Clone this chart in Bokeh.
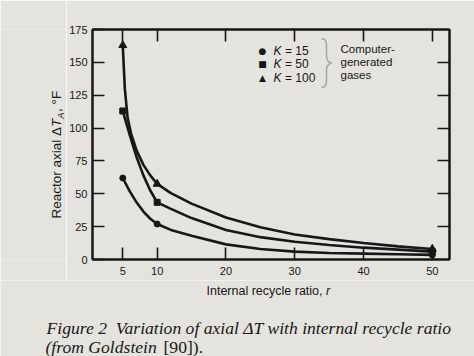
import math
from bokeh.plotting import figure
from bokeh.models import Range1d, FixedTicker, LinearAxis, Label, PolyAnnotation
from bokeh.layouts import column, row
from bokeh.embed import file_html
from bokeh.resources import INLINE

# ---- data ----
r_k15 = [5, 6, 7, 8, 9, 10, 12, 15, 20, 25, 30, 35, 40, 45, 50]
dt_k15 = [62, 52, 43.5, 36.5, 31, 27, 22.5, 18, 11.5, 8, 6, 5, 4.5, 4, 3.5]
r_k50 = [5, 5.5, 6, 6.5, 7, 8, 9, 10, 12, 15, 20, 25, 30, 35, 40, 45, 50]
dt_k50 = [113, 104, 95, 86.5, 78, 64, 52.5, 43.5, 38.5, 31.5, 22.5, 17, 13.5, 11, 9, 7.5, 6]
r_k100 = [5, 5.3, 5.7, 6.2, 7, 8, 9, 10, 12, 15, 20, 25, 30, 35, 40, 45, 50]
dt_k100 = [163, 130, 108, 96, 83, 72, 64, 57.5, 50.5, 42.5, 32, 24.5, 19, 15.5, 12.5, 10, 8]
marker_r = [5, 10, 50]
x_ticks = [5, 10, 20, 30, 40, 50]
y_ticks = [0, 25, 50, 75, 100, 125, 150, 175]
legend_k = ["15", "50", "100"]

W, H = 474, 356
LEFT_W = 66      # strip holding the y-axis title
TOP_H = 280      # height of the chart row
BG = "#e5e3dd"
INK = "#171717"

def blank(w, h):
    f = figure(width=w, height=h, x_range=Range1d(0, 1), y_range=Range1d(0, 1),
               x_axis_location=None, y_axis_location=None, min_border=0,
               outline_line_color=None, background_fill_color=BG, border_fill_color=BG,
               toolbar_location=None, output_backend="svg")
    for g in f.grid:
        g.visible = False
    return f

p = figure(width=W - LEFT_W, height=TOP_H, x_range=Range1d(0.6, 52.5), y_range=Range1d(0, 175),
           output_backend="svg", toolbar_location=None,
           min_border_left=92 - LEFT_W, min_border_right=25, min_border_top=29,
           min_border_bottom=TOP_H - 259,
           background_fill_color=BG, border_fill_color=BG,
           outline_line_color=INK, outline_line_width=2)
p.grid.visible = False

def style_axis(ax, ticks, labels=True):
    ax.ticker = FixedTicker(ticks=ticks)
    ax.major_tick_in = 12
    ax.major_tick_out = 0
    ax.minor_tick_in = 0
    ax.minor_tick_out = 0
    ax.major_tick_line_color = INK
    ax.major_tick_line_width = 1.6
    ax.axis_line_color = INK
    ax.axis_line_width = 2
    ax.major_label_text_font = "Liberation Sans"
    ax.major_label_text_font_size = "11px"
    ax.major_label_text_color = INK
    if not labels:
        ax.major_label_overrides = {t: "" for t in ticks}

style_axis(p.xaxis[0], x_ticks)
p.xaxis[0].major_label_standoff = 7
style_axis(p.yaxis[0], y_ticks)
p.yaxis[0].major_label_standoff = 5

top_ax = LinearAxis()
style_axis(top_ax, x_ticks, labels=False)
p.add_layout(top_ax, "above")
right_ax = LinearAxis()
style_axis(right_ax, y_ticks[1:-1], labels=False)
p.add_layout(right_ax, "right")

series = [
    (r_k15, dt_k15, "circle", 6),
    (r_k50, dt_k50, "square", 6),
    (r_k100, dt_k100, "triangle", 8),
]
for rs, vs, mk, sz in series:
    p.line(rs, vs, line_color=INK, line_width=2.6)
    my = [vs[rs.index(r)] for r in marker_r]
    p.scatter(marker_r, my, marker=mk, size=sz, fill_color=INK, line_color=INK)

def lab(f, x, y, text, size, style="normal", font="Liberation Sans", align="left",
        baseline="middle", angle=0.0):
    f.add_layout(Label(x=x, y=y, x_units="canvas", y_units="canvas", text=text,
                       text_font=font, text_font_size=size, text_font_style=style,
                       text_color=INK, text_align=align, text_baseline=baseline,
                       angle=angle))

# legend (inside the chart frame; page x minus LEFT_W)
ox = LEFT_W
sym = ["\u25CF", "\u25A0", "\u25B2"]
ly = [50, 63.5, 77]
for s, k, yy in zip(sym, legend_k, ly):
    lab(p, 262 - ox, yy, s, "9px", font="DejaVu Sans", align="center")
    lab(p, 273 - ox, yy, "K", "12px", style="italic")
    lab(p, 284.5 - ox, yy, "= " + k, "12px")

bx = [321, 324, 325.5, 326, 326, 326.8, 328.5, 331, 328.5, 326.8, 326, 326, 325.5, 324, 321]
by = [38, 39, 41, 44, 56, 59.5, 61.5, 62.5, 63.5, 65.5, 69, 81, 84, 86, 87]
xs = [v - ox for v in bx + bx[::-1]]
ys = by + by[::-1]
p.add_layout(PolyAnnotation(xs=xs, ys=ys, xs_units="canvas", ys_units="canvas",
                            fill_alpha=0, line_color=INK, line_width=1.5))
for t, yy in zip(["Computer-", "generated", "gases"], [48, 61, 74]):
    lab(p, 340 - ox, yy, t, "11.5px")

# y-axis title strip
yl = blank(LEFT_W, TOP_H)
yl_x = 56
start = 218
lab(yl, yl_x, start, "Reactor axial \u0394", "13.5px", angle=math.pi / 2)
lab(yl, yl_x, start - 91.5, "T", "13.5px", style="italic", angle=math.pi / 2)
lab(yl, yl_x + 3.5, start - 99.7, "A", "9.5px", style="italic", angle=math.pi / 2)
lab(yl, yl_x, start - 106.5, ", \u00B0F", "13.5px", angle=math.pi / 2)

# x-axis title and caption strip
cap = blank(W, H - TOP_H)
oy = TOP_H
lab(cap, 206, 290 - oy, "Internal recycle ratio,", "12.5px")
lab(cap, 325.5, 290 - oy, "r", "12.5px", style="italic")
lab(cap, 46, 327 - oy, "Figure 2\u2002Variation of axial \u0394T with internal recycle ratio", "17.6px",
    style="italic", font="Liberation Serif", baseline="alphabetic")
lab(cap, 45, 346 - oy, "(from Goldstein", "17.6px", style="italic", font="Liberation Serif",
    baseline="alphabetic")
lab(cap, 163, 346 - oy, "[90]).", "17.6px", font="Liberation Serif", baseline="alphabetic")

layout = column(row(yl, p), cap)
open("out.html", "w").write(file_html(layout, INLINE))
